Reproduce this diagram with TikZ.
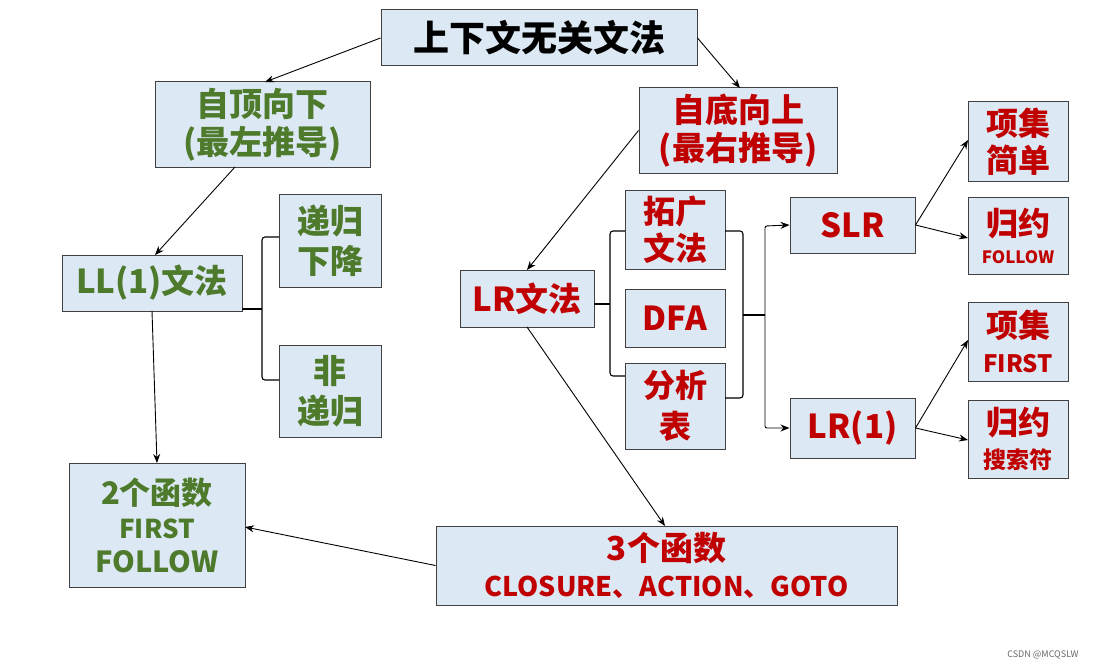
\documentclass[tikz,border=0pt]{standalone}
\usepackage{fontspec}
\setmainfont{Noto Sans CJK SC}[BoldFont={Noto Sans CJK SC Black}]
\usetikzlibrary{arrows.meta}
\definecolor{gr}{HTML}{4E7A2C}
\definecolor{rd}{HTML}{C00000}
\definecolor{bx}{HTML}{DCE8F4}
\begin{document}
\begin{tikzpicture}[x=1pt,y=-1pt,
 bx/.style={draw=black!75,line width=1pt,fill=bx,font=\bfseries,align=center,inner sep=0pt},
 ar/.style={-{Stealth[length=9pt,width=7pt]},line width=0.9pt},
 ln/.style={line width=1.1pt,rounded corners=3pt}]
\useasboundingbox (0,0) rectangle (1096,669);
\newcommand\bxn[7]{\node[bx,minimum width={#4-#2},minimum height={#5-#3}] (#1) at ({(#2+#4)/2},{(#3+#5)/2}) {};}
\bxn{top}{381}{10}{697}{66}{black}{30}
\node[font=\bfseries\fontsize{36}{40}\selectfont] at (top) {上下文无关文法};
\bxn{td}{155}{82}{370}{167}{gr}{28}
\node[text=gr,align=center,font=\bfseries\fontsize{33}{38}\selectfont] at (td) {自顶向下\\(最左推导)};
\bxn{bu}{639}{88}{837}{173}{rd}{28}
\node[text=rd,align=center,font=\bfseries\fontsize{33}{38}\selectfont] at (bu) {自底向上\\(最右推导)};
\bxn{ll}{62}{255}{242}{311}{gr}{28}
\node[text=gr,font=\bfseries\fontsize{33}{36}\selectfont] at (ll) {LL(1)文法};
\bxn{dg}{279}{194}{381}{287}{gr}{28}
\node[text=gr,align=center,font=\bfseries\fontsize{33}{40}\selectfont] at (dg) {递归\\下降};
\bxn{fd}{279}{345}{381}{437}{gr}{28}
\node[text=gr,align=center,font=\bfseries\fontsize{33}{40}\selectfont] at (fd) {非\\递归};
\bxn{lr}{460}{270}{594}{327}{rd}{28}
\node[text=rd,font=\bfseries\fontsize{33}{36}\selectfont] at (lr) {LR文法};
\bxn{tg}{625}{190}{725}{269}{rd}{28}
\node[text=rd,align=center,font=\bfseries\fontsize{32}{37}\selectfont] at (tg) {拓广\\文法};
\bxn{dfa}{625}{289}{725}{347}{rd}{28}
\node[text=rd,font=\bfseries\fontsize{33}{36}\selectfont] at (dfa) {DFA};
\bxn{fx}{625}{363}{725}{449}{rd}{28}
\node[text=rd,align=center,font=\bfseries\fontsize{32}{41}\selectfont] at (fx) {分析\\表};
\bxn{slr}{790}{197}{915}{253}{rd}{28}
\node[text=rd,font=\bfseries\fontsize{33}{36}\selectfont] at (slr) {SLR};
\bxn{lr1}{790}{398}{915}{458}{rd}{28}
\node[text=rd,font=\bfseries\fontsize{33}{36}\selectfont] at (lr1) {LR(1)};
\bxn{a1}{968}{102}{1068}{181}{rd}{28}
\node[text=rd,align=center,font=\bfseries\fontsize{32}{37}\selectfont] at (a1) {项集\\简单};
\bxn{a2}{968}{197}{1068}{274}{rd}{28}
\node[text=rd,align=center,font=\bfseries\fontsize{32}{30}\selectfont] at (a2) {归约\\[-2pt]{\fontsize{17}{19}\selectfont FOLLOW}};
\bxn{a3}{968}{302}{1068}{381}{rd}{28}
\node[text=rd,align=center,font=\bfseries\fontsize{32}{35}\selectfont] at (a3) {项集\\{\fontsize{24}{26}\selectfont FIRST}};
\bxn{a4}{968}{400}{1068}{478}{rd}{28}
\node[text=rd,align=center,font=\bfseries\fontsize{32}{34}\selectfont] at (a4) {归约\\{\fontsize{23}{25}\selectfont 搜索符}};
\bxn{f2}{69}{463}{245}{587}{gr}{28}
\node[text=gr,align=center,font=\bfseries\fontsize{31}{34}\selectfont] at (f2) {2个函数\\{\fontsize{26}{31}\selectfont FIRST}\\{\fontsize{29}{32}\selectfont FOLLOW}};
\bxn{f3}{436}{526}{897}{605}{rd}{28}
\node[text=rd,align=center,font=\bfseries\fontsize{33}{36}\selectfont] at (f3) {3个函数\\{\fontsize{27}{30}\selectfont CLOSURE、ACTION、GOTO}};
% arrows
\draw[ar] (top.west) -- (265,82);
\draw[ar] (top.east) -- (740,88);
\draw[ar] (235,167) -- (155,255);
\draw[ar] (bu.west) -- (527,270);
\draw[ar] (152,311) -- (157,463);
\draw[ar] (527,327) -- (665,526);
\draw[ar] (f3.west) -- (245,527);
\draw[ar] (slr.east) -- (968,140);
\draw[ar] (slr.east) -- (968,238);
\draw[ar] (lr1.east) -- (968,340);
\draw[ar] (lr1.east) -- (968,440);
% braces
\draw[ln] (279,237) -- (262,237) -- (262,380) -- (279,380);
\draw[ln] (242,309) -- (262,309);
\draw[ln] (625,231) -- (610,231) -- (610,376) -- (625,376);
\draw[ln] (594,304) -- (610,304);
\draw[ln] (725,231) -- (743,231) -- (743,398) -- (725,398);
\draw[ln] (743,315) -- (765,315);
\draw[ar,rounded corners=2pt] (765,315) -- (765,226) -- (slr.west);
\draw[ar,rounded corners=2pt] (765,315) -- (765,428) -- (lr1.west);
\node[text=black!60,font=\fontsize{9}{10}\selectfont,anchor=east] at (1082,655) {CSDN @MCQSLW};
\end{tikzpicture}
\end{document}
